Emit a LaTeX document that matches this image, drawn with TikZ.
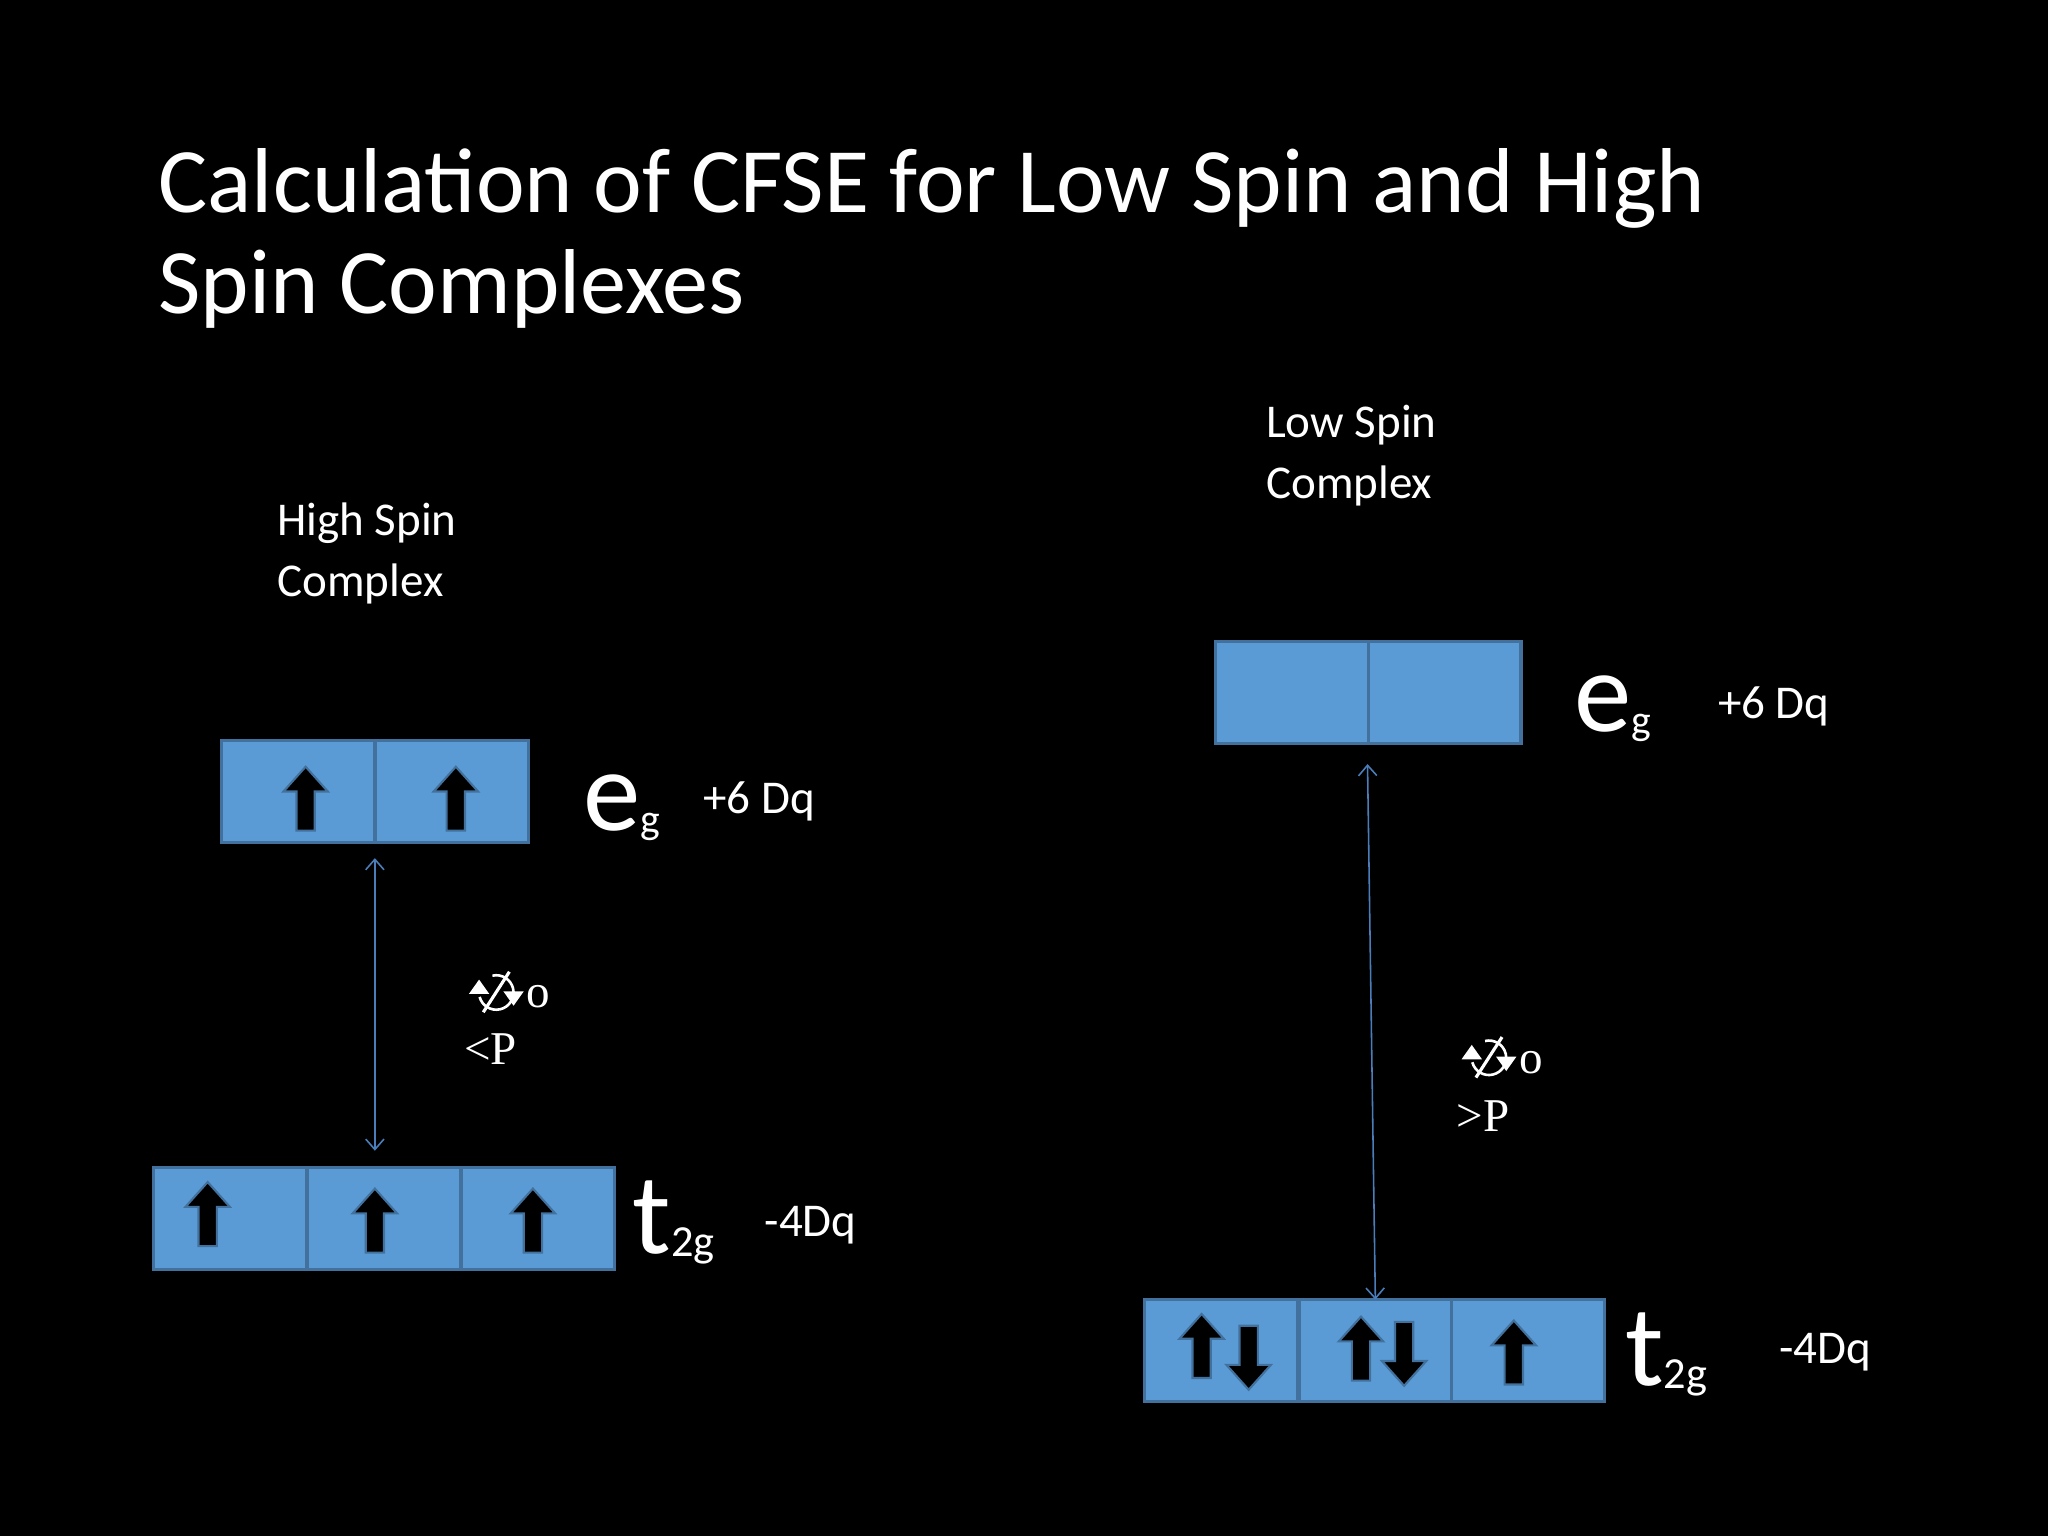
\documentclass[tikz,border=0pt]{standalone}
\usepackage{fontspec}
\setmainfont{Carlito}
\newfontfamily\serifx{Liberation Serif}
\usetikzlibrary{arrows.meta}
\definecolor{boxfill}{HTML}{5B9BD5}
\definecolor{boxline}{HTML}{41719C}
\definecolor{linkc}{HTML}{4A7EBB}
\tikzset{
  orb/.style={draw=boxline,fill=boxfill,line width=1.2pt,minimum width=58.5pt,minimum height=39pt,inner sep=0pt,outer sep=0pt},
  lbl/.style={text=white,anchor=base west,inner sep=0pt},
  spin/.style={fill=black,draw=boxline,line width=0.8pt,line join=miter},
  link/.style={draw=linkc,line width=0.6pt,{Straight Barb[length=4pt,width=7pt]}-{Straight Barb[length=4pt,width=7pt]}},
  pics/up/.style={code={\path[spin] (0,-25)--(17,-6)--(7,-6)--(7,24)--(-7,24)--(-7,-6)--(-17,-6)--cycle;}},
  pics/dn/.style={code={\path[spin] (0,25)--(17,6)--(7,6)--(7,-24)--(-7,-24)--(-7,6)--(-17,6)--cycle;}},
  pics/delta/.style={code={
    \draw[white,line width=1pt] (-1.5pt,6.5pt) arc[start angle=103,end angle=-180+15,radius=6.6pt];
    \fill[white] (-6.6pt,5pt)--(-10.5pt,-0.5pt)--(-2.7pt,-0.5pt)--cycle;
    \fill[white] (6.6pt,-5pt)--(10.5pt,0.5pt)--(2.7pt,0.5pt)--cycle;
    \draw[white,line width=1.2pt] (-5pt,-7.5pt)--(5pt,8pt);
  }}
}
\begin{document}
\begin{tikzpicture}[x=0.5pt,y=-0.5pt]
\fill[black] (0,0) rectangle (1568,1176);
\useasboundingbox (0,0) rectangle (1568,1176);
% title
\node[lbl,font=\fontsize{35.3}{42}\selectfont] (title1) at (121,163) {Calculation of CFSE for Low Spin and High};
\node[lbl,font=\fontsize{35.3}{42}\selectfont] (title2) at (121,240) {Spin Complexes};
% headings
\node[lbl,font=\fontsize{18}{20}\selectfont] (hs1) at (212,410) {High Spin};
\node[lbl,font=\fontsize{18}{20}\selectfont] (hs2) at (212,457) {Complex};
\node[lbl,font=\fontsize{18}{20}\selectfont] (ls1) at (969,335) {Low Spin};
\node[lbl,font=\fontsize{18}{20}\selectfont] (ls2) at (969,382) {Complex};
% high spin boxes
\node[orb] (he1) at (228,606) {};
\node[orb] (he2) at (346,606) {};
\node[orb] (ht1) at (176,933) {};
\node[orb] (ht2) at (294,933) {};
\node[orb] (ht3) at (412,933) {};
\pic at (234,612) {up};
\pic at (349,612) {up};
\pic at (159,930) {up};
\pic at (287,935) {up};
\pic at (408,935) {up};
% labels high
\node[lbl,font=\fontsize{44}{48}\selectfont] (heg) at (446,636) {e\raisebox{-1pt}{\fontsize{16}{18}\selectfont g}};
\node[lbl,font=\fontsize{18}{20}\selectfont] (hegv) at (538,623) {+6 Dq};
\node[lbl,font=\fontsize{44}{48}\selectfont] (ht) at (484,960) {t\raisebox{-1pt}{\fontsize{17}{18}\selectfont 2g}};
\node[lbl,font=\fontsize{18}{20}\selectfont] (htv) at (585,947) {-4Dq};
\coordinate (ha) at (287,657);
\coordinate (hb) at (287,881);
\draw[link] (ha) -- (hb);
\pic at (380,760) {delta};
\node[lbl,font=\serifx\fontsize{18}{20}\selectfont] (ho) at (403,771) {o};
\node[lbl,font=\serifx\fontsize{18}{20}\selectfont] (hp) at (355,815) {<P};
% low spin boxes
\node[orb] (le1) at (989,530) {};
\node[orb] (le2) at (1106,530) {};
\node[orb] (lt1) at (935,1034) {};
\node[orb] (lt2) at (1053,1034) {};
\node[orb] (lt3) at (1170,1034) {};
\pic at (920,1031) {up};
\pic at (956,1039) {dn};
\pic at (1042,1033) {up};
\pic at (1075,1036) {dn};
\pic at (1159,1036) {up};
\node[lbl,font=\fontsize{44}{48}\selectfont] (leg) at (1205,560) {e\raisebox{-1pt}{\fontsize{16}{18}\selectfont g}};
\node[lbl,font=\fontsize{18}{20}\selectfont] (legv) at (1315,550) {+6 Dq};
\node[lbl,font=\fontsize{44}{48}\selectfont] (lt) at (1244,1061) {t\raisebox{-1pt}{\fontsize{17}{18}\selectfont 2g}};
\node[lbl,font=\fontsize{18}{20}\selectfont] (ltv) at (1362,1044) {-4Dq};
\coordinate (la) at (1047,585);
\coordinate (lb) at (1053,995);
\draw[link] (la) -- (lb);
\pic at (1140,810) {delta};
\node[lbl,font=\serifx\fontsize{18}{20}\selectfont] (lo) at (1163,822) {o};
\node[lbl,font=\serifx\fontsize{18}{20}\selectfont] (lp) at (1115,866) {>P};
\end{tikzpicture}
\end{document}
